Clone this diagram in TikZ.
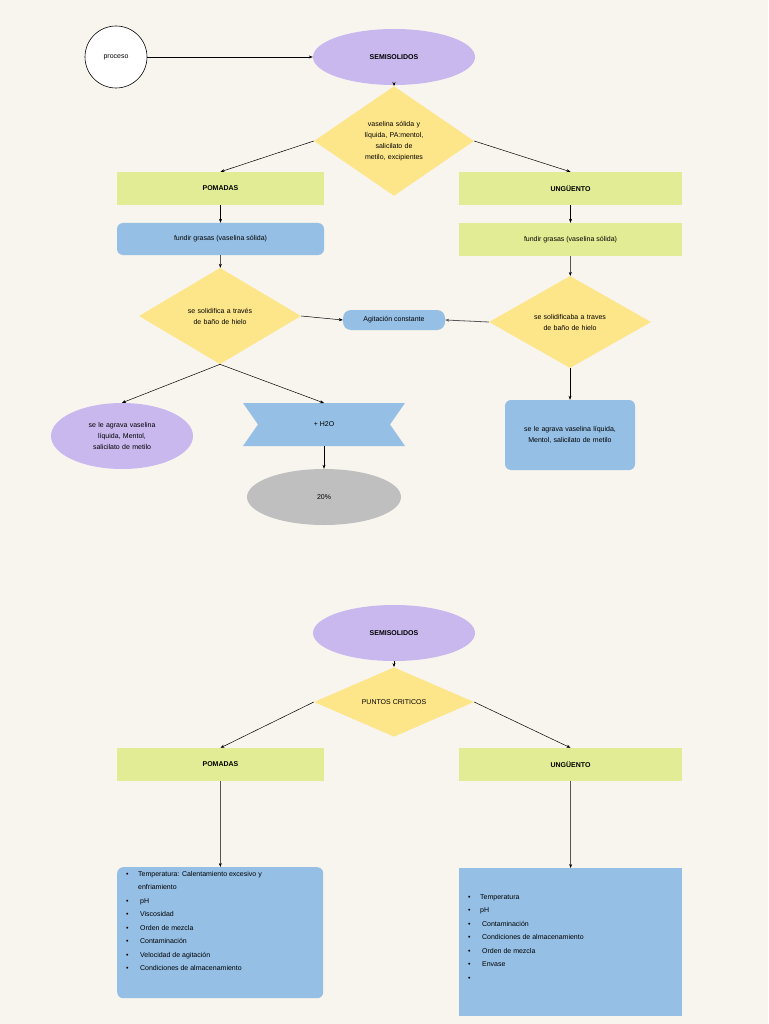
\documentclass[tikz,border=0pt]{standalone}
\usepackage{fontspec}
\setmainfont{Liberation Sans}
\usetikzlibrary{shapes.geometric,arrows.meta}
\definecolor{bg}{HTML}{F8F4EE}
\definecolor{pur}{HTML}{C9B8EE}
\definecolor{yel}{HTML}{FDE68A}
\definecolor{grn}{HTML}{E2EC94}
\definecolor{blu}{HTML}{95BFE5}
\definecolor{gry}{HTML}{BFBFBF}
\newcommand{\bl}[1]{\makebox[12pt][l]{\textbullet}#1\\}
\begin{document}
\begin{tikzpicture}[x=1pt,y=-1pt,
  every node/.style={font=\fontsize{7}{11}\selectfont,align=center,inner sep=0pt},
  ell/.style={ellipse,fill=pur,minimum width=#1},
  dia/.style={diamond,fill=yel,aspect=1.7},
  gbox/.style={rectangle,fill=grn,minimum height=33pt},
  bbox/.style={rectangle,rounded corners=6pt,fill=blu},
  arr/.style={-{Stealth[length=4pt,width=3pt]},black,line width=0.5pt}]
\fill[bg] (0,0) rectangle (768,1024);
\useasboundingbox (0,0) rectangle (768,1024);
% top
\node[circle,draw,line width=0.6pt,fill=white,minimum size=62pt] (proc) at (116,57) {proceso};
\node[ell=162pt,minimum height=56pt,font=\fontsize{7}{9}\selectfont\bfseries] (s1) at (394,57) {SEMISOLIDOS};
\node[diamond,fill=yel,minimum width=160pt,minimum height=92pt,text width=70pt] (d1) at (394,141) {vaselina sólida y líquida, PA:mentol, salicilato de metilo, excipientes};
\node[gbox,minimum width=207pt,font=\fontsize{7}{9}\selectfont\bfseries] (p1) at (220.5,188.5) {POMADAS};
\node[gbox,minimum width=223pt,font=\fontsize{7}{9}\selectfont\bfseries] (u1) at (570.5,188.5) {UNGÜENTO};
\node[bbox,minimum width=207pt,minimum height=32pt] (f1) at (220.5,239) {fundir grasas (vaselina sólida)};
\node[gbox,minimum width=223pt] (f2) at (570.5,239.5) {fundir grasas (vaselina sólida)};
\node[diamond,fill=yel,minimum width=162pt,minimum height=78pt,text width=80pt] (d2) at (220,316) {se solidifica a través de baño de hielo};
\node[bbox,rounded corners=8pt,minimum width=102pt,minimum height=20pt] (ag) at (394,320) {Agitación constante};
\node[diamond,fill=yel,minimum width=162pt,minimum height=92pt,text width=72pt] (d3) at (570,322) {se solidificaba a traves de baño de hielo};
\node[ellipse,fill=pur,minimum width=142pt,minimum height=66pt,text width=90pt] (e1) at (122,436) {se le agrava vaselina líquida, Mentol, salicilato de metilo};
\coordinate (bt) at (324,403);
\fill[blu] (243,403) -- (405,403) -- (390,424.5) -- (405,446) -- (243,446) -- (258,424.5) -- cycle;
\node (h2o) at (324,424.5) {+ H2O};
\coordinate (bb) at (324,446);
\node[ellipse,fill=gry,minimum width=154pt,minimum height=56pt] (g) at (324,497) {20\%};
\node[bbox,minimum width=130pt,minimum height=70pt,text width=100pt] (r1) at (570,435) {se le agrava vaselina líquida, Mentol, salicilato de metilo};
\draw[arr] (proc) -- (s1);
\draw[arr,line width=1pt] (s1) -- (d1);
\draw[arr] (d1.west) -- (p1.north);
\draw[arr] (d1.east) -- (u1.north);
\draw[arr] (p1) -- (f1);
\draw[arr] (u1) -- (f2);
\draw[arr] (f1) -- (d2);
\draw[arr] (f2) -- (d3);
\draw[arr] (d2.east) -- (ag.west);
\draw[arr,gray!70!black,line width=0.8pt] (d3.west) -- (ag.east);
\draw[arr] (d2.south) -- (e1.north);
\draw[arr] (d2.south) -- (bt);
\draw[arr] (bb) -- (g);
\draw[arr] (d3) -- (r1);
% bottom
\node[ell=162pt,minimum height=56pt,font=\fontsize{7}{9}\selectfont\bfseries] (s2) at (394,633) {SEMISOLIDOS};
\node[diamond,fill=yel,minimum width=160pt,minimum height=60pt] (d4) at (394,702) {PUNTOS CRITICOS};
\node[gbox,minimum width=207pt,font=\fontsize{7}{9}\selectfont\bfseries] (p2) at (220.5,764.5) {POMADAS};
\node[gbox,minimum width=223pt,font=\fontsize{7}{9}\selectfont\bfseries] (u2) at (570.5,764.5) {UNGÜENTO};
\node[bbox,minimum width=206pt,minimum height=131pt,anchor=north west,align=left,font=\fontsize{7}{13.5}\selectfont] (l2) at (117,867) {};
\node[anchor=north west,align=left,font=\fontsize{7}{13.5}\selectfont] at (126,871) {\bl{Temperatura: Calentamiento excesivo y}\hspace*{12pt}enfriamiento\\ \bl{\ pH}\bl{\ Viscosidad}\bl{\ Orden de mezcla}\bl{\ Contaminación}\bl{\ Velocidad de agitación}\bl{\ Condiciones de almacenamiento}};
\node[rectangle,fill=blu,minimum width=223pt,minimum height=148pt,anchor=north west] (r2) at (459,868) {};
\node[anchor=north west,align=left,font=\fontsize{7}{13.5}\selectfont] at (468,894) {\bl{Temperatura}\bl{pH}\bl{\ Contaminación}\bl{\ Condiciones de almacenamiento}\bl{\ Orden de mezcla}\bl{\ Envase}\textbullet};
\draw[arr,line width=1pt] (s2) -- (d4);
\draw[arr] (d4.west) -- (p2.north);
\draw[arr] (d4.east) -- (u2.north);
\draw[arr] (p2) -- (l2);
\draw[arr] (u2) -- (r2);
\end{tikzpicture}
\end{document}
